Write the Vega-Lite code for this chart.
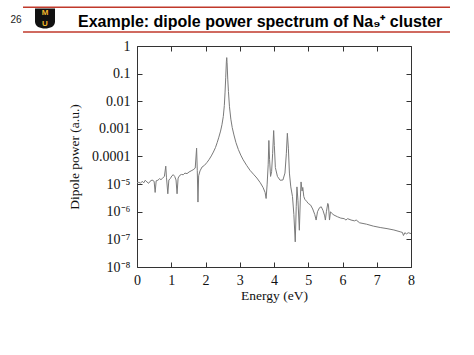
{
  "$schema": "https://vega.github.io/schema/vega-lite/v6.json",
  "autosize": "none",
  "width": 274,
  "height": 221,
  "padding": {"left": 137, "top": 46, "right": 63, "bottom": 88},
  "background": "white",
  "config": {
    "view": {"stroke": "#333333", "strokeWidth": 1},
    "axis": {"labelFont": "Liberation Serif", "titleFont": "Liberation Serif", "labelFontSize": 14, "titleFontSize": 13.5, "titleFontWeight": "normal", "labelColor": "#111111", "titleColor": "#111111", "tickColor": "#333333", "grid": false, "domain": false}
  },
  "resolve": {"axis": {"x": "independent", "y": "independent"}},
  "layer": [
    {
      "data": {"values": [
        {"E":0.00,"P":1.12e-5},{"E":0.06,"P":1.17e-5},{"E":0.10,"P":1.07e-5},{"E":0.15,"P":1.26e-5},{"E":0.20,"P":1.12e-5},
        {"E":0.24,"P":1.38e-5},{"E":0.29,"P":1.20e-5},{"E":0.34,"P":1.07e-5},{"E":0.38,"P":1.26e-5},{"E":0.44,"P":1.41e-5},
        {"E":0.50,"P":1.26e-5},{"E":0.53,"P":5.0e-6},{"E":0.56,"P":1.32e-5},{"E":0.61,"P":1.38e-5},{"E":0.66,"P":1.58e-5},
        {"E":0.70,"P":1.45e-5},{"E":0.75,"P":1.66e-5},{"E":0.80,"P":1.9e-5},{"E":0.84,"P":4.47e-5},{"E":0.86,"P":1.78e-5},
        {"E":0.90,"P":4.47e-6},{"E":0.93,"P":1.41e-5},{"E":0.97,"P":1.58e-5},{"E":1.02,"P":2.0e-5},{"E":1.06,"P":2.19e-5},
        {"E":1.10,"P":1.9e-5},{"E":1.14,"P":1.41e-5},{"E":1.17,"P":4.47e-6},{"E":1.20,"P":1.66e-5},{"E":1.25,"P":2.09e-5},
        {"E":1.30,"P":2.24e-5},{"E":1.35,"P":2.19e-5},{"E":1.40,"P":2.51e-5},{"E":1.46,"P":2.4e-5},{"E":1.52,"P":2.75e-5},
        {"E":1.58,"P":3.02e-5},{"E":1.64,"P":3.31e-5},{"E":1.70,"P":3.8e-5},{"E":1.74,"P":2.0e-4},{"E":1.76,"P":3.16e-5},
        {"E":1.78,"P":2.24e-6},{"E":1.80,"P":2.0e-5},{"E":1.84,"P":3.02e-5},{"E":1.90,"P":4.17e-5},{"E":1.97,"P":4.79e-5},
        {"E":2.04,"P":6.03e-5},{"E":2.10,"P":7.59e-5},{"E":2.17,"P":1.05e-4},{"E":2.23,"P":1.45e-4},{"E":2.29,"P":2.09e-4},
        {"E":2.34,"P":3.16e-4},{"E":2.39,"P":5.01e-4},{"E":2.44,"P":8.32e-4},{"E":2.48,"P":1.41e-3},{"E":2.52,"P":2.82e-3},
        {"E":2.55,"P":7.08e-3},{"E":2.57,"P":0.02},{"E":2.59,"P":0.0708},{"E":2.61,"P":0.282},{"E":2.62,"P":0.38},
        {"E":2.63,"P":0.251},{"E":2.65,"P":0.063},{"E":2.67,"P":0.0224},{"E":2.70,"P":6.31e-3},{"E":2.74,"P":2.24e-3},
        {"E":2.78,"P":1.12e-3},{"E":2.83,"P":6.03e-4},{"E":2.89,"P":3.16e-4},{"E":2.96,"P":1.78e-4},{"E":3.03,"P":1.12e-4},
        {"E":3.10,"P":7.59e-5},{"E":3.20,"P":4.79e-5},{"E":3.30,"P":3.16e-5},{"E":3.40,"P":2.29e-5},{"E":3.50,"P":1.66e-5},
        {"E":3.60,"P":1.12e-5},{"E":3.68,"P":7.59e-6},{"E":3.74,"P":5.0e-6},{"E":3.77,"P":3.02e-6},{"E":3.80,"P":1.0e-5},
        {"E":3.83,"P":5.0e-5},{"E":3.85,"P":3.8e-4},{"E":3.87,"P":7.94e-5},{"E":3.90,"P":1.9e-5},{"E":3.93,"P":2.82e-5},
        {"E":3.96,"P":1.26e-4},{"E":3.99,"P":8.71e-4},{"E":4.01,"P":2.51e-4},{"E":4.04,"P":3.98e-5},{"E":4.10,"P":1.9e-5},
        {"E":4.18,"P":1.38e-5},{"E":4.26,"P":1.41e-5},{"E":4.32,"P":2.51e-5},{"E":4.36,"P":1.26e-4},{"E":4.39,"P":6.92e-4},
        {"E":4.42,"P":2.0e-4},{"E":4.45,"P":2.51e-5},{"E":4.49,"P":7.94e-6},{"E":4.54,"P":3.55e-6},{"E":4.58,"P":7.94e-7},
        {"E":4.62,"P":8.13e-8},{"E":4.65,"P":1.58e-6},{"E":4.67,"P":7.94e-6},{"E":4.70,"P":2.51e-6},{"E":4.74,"P":2.14e-7},
        {"E":4.77,"P":3.16e-6},{"E":4.79,"P":1.2e-5},{"E":4.82,"P":5.62e-6},{"E":4.84,"P":7.59e-6},{"E":4.87,"P":3.55e-6},
        {"E":4.90,"P":2.82e-6},{"E":4.95,"P":2.4e-6},{"E":5.00,"P":2.0e-6},{"E":5.07,"P":1.74e-6},{"E":5.13,"P":1.26e-6},
        {"E":5.19,"P":7.94e-7},{"E":5.23,"P":5.01e-7},{"E":5.27,"P":1.0e-6},{"E":5.33,"P":1.41e-6},{"E":5.38,"P":1.51e-6},
        {"E":5.43,"P":1.12e-6},{"E":5.48,"P":7.08e-7},{"E":5.50,"P":5.01e-7},{"E":5.53,"P":1.0e-6},{"E":5.57,"P":2.0e-6},
        {"E":5.59,"P":1.74e-6},{"E":5.62,"P":5.01e-7},{"E":5.65,"P":1.0e-6},{"E":5.68,"P":8.91e-7},{"E":5.75,"P":7.59e-7},
        {"E":5.85,"P":6.61e-7},{"E":5.95,"P":5.89e-7},{"E":6.05,"P":5.62e-7},{"E":6.10,"P":5.01e-7},{"E":6.15,"P":5.62e-7},
        {"E":6.25,"P":5.01e-7},{"E":6.35,"P":4.68e-7},{"E":6.40,"P":5.01e-7},{"E":6.50,"P":3.98e-7},{"E":6.70,"P":3.55e-7},
        {"E":6.90,"P":3.02e-7},{"E":7.10,"P":2.69e-7},{"E":7.30,"P":2.45e-7},{"E":7.50,"P":2.19e-7},{"E":7.70,"P":1.86e-7},
        {"E":7.75,"P":1.78e-7},{"E":7.78,"P":1.38e-7},{"E":7.82,"P":1.74e-7},{"E":7.87,"P":1.58e-7},{"E":7.92,"P":1.74e-7},
        {"E":8.00,"P":1.62e-7}
      ]},
      "mark": {"type": "line", "color": "#7a7a7a", "strokeWidth": 1, "clip": true},
      "encoding": {
        "x": {"field": "E", "type": "quantitative", "scale": {"domain": [0, 8], "nice": false, "zero": false},
              "axis": {"title": "Energy (eV)", "values": [0,1,2,3,4,5,6,7,8], "tickSize": -5, "labelPadding": 11, "titlePadding": 1, "labelFlush": false}},
        "y": {"field": "P", "type": "quantitative", "scale": {"type": "log", "domain": [1e-8, 1], "nice": false},
              "axis": {"title": "Dipole power (a.u.)", "values": [1,0.1,0.01,0.001,0.0001,0.00001,0.000001,0.0000001,0.00000001], "tickSize": -5, "labelPadding": 12, "titlePadding": 10, "labelFlush": false,
                       "labelExpr": "datum.value > 0.5 ? '1' : datum.value > 0.05 ? '0.1' : datum.value > 0.005 ? '0.01' : datum.value > 0.0005 ? '0.001' : datum.value > 0.00005 ? '0.0001' : datum.value > 0.000005 ? '10⁻⁵' : datum.value > 0.0000005 ? '10⁻⁶' : datum.value > 0.00000005 ? '10⁻⁷' : '10⁻⁸'"}}
      }
    },
    {
      "data": {"values": [{"part": "upper rule"}]},
      "mark": {"type": "rule", "color": "#c0392b", "strokeWidth": 1.5},
      "encoding": {
        "x": {"datum": -3.328, "type": "quantitative", "scale": {"domain": [0, 8], "nice": false, "zero": false},
              "axis": {"orient": "top", "title": null, "labels": false, "values": [0,1,2,3,4,5,6,7,8], "tickSize": -5}},
        "x2": {"datum": 9.139},
        "y": {"datum": 25.2, "type": "quantitative", "scale": {"type": "log", "domain": [1e-8, 1], "nice": false},
              "axis": {"orient": "right", "title": null, "labels": false, "values": [1,0.1,0.01,0.001,0.0001,0.00001,0.000001,0.0000001,0.00000001], "tickSize": -5}}
      }
    },
    {
      "data": {"values": [{"part": "lower rule"}]},
      "mark": {"type": "rule", "color": "#c0392b", "strokeWidth": 1.5},
      "encoding": {
        "x": {"datum": -3.328, "type": "quantitative", "scale": {"domain": [0, 8], "nice": false, "zero": false}, "axis": null},
        "x2": {"datum": 9.139},
        "y": {"datum": 3.21, "type": "quantitative", "scale": {"type": "log", "domain": [1e-8, 1], "nice": false}, "axis": null}
      }
    },
    {
      "data": {"values": [{"part": "logo"}]},
      "mark": {"type": "point", "filled": true, "color": "#111111", "opacity": 1, "size": 400, "shape": "M-1,-1H1V0.3C1,0.8 0.5,1 0,1C-0.5,1 -1,0.8 -1,0.3Z"},
      "encoding": {
        "x": {"datum": -2.686, "type": "quantitative", "scale": {"domain": [0, 8], "nice": false, "zero": false}, "axis": null},
        "y": {"datum": 9.90, "type": "quantitative", "scale": {"type": "log", "domain": [1e-8, 1], "nice": false}, "axis": null}
      }
    },
    {
      "data": {"values": [{"part": "logo M"}]},
      "mark": {"type": "text", "text": "M", "font": "Liberation Sans", "fontWeight": "bold", "fontSize": 8, "color": "#f1b82d", "align": "center", "baseline": "middle"},
      "encoding": {
        "x": {"datum": -2.686, "type": "quantitative", "scale": {"domain": [0, 8], "nice": false, "zero": false}, "axis": null},
        "y": {"datum": 15.65, "type": "quantitative", "scale": {"type": "log", "domain": [1e-8, 1], "nice": false}, "axis": null}
      }
    },
    {
      "data": {"values": [{"part": "logo U"}]},
      "mark": {"type": "text", "text": "U", "font": "Liberation Sans", "fontWeight": "bold", "fontSize": 8, "color": "#f1b82d", "align": "center", "baseline": "middle"},
      "encoding": {
        "x": {"datum": -2.686, "type": "quantitative", "scale": {"domain": [0, 8], "nice": false, "zero": false}, "axis": null},
        "y": {"datum": 6.52, "type": "quantitative", "scale": {"type": "log", "domain": [1e-8, 1], "nice": false}, "axis": null}
      }
    },
    {
      "data": {"values": [{"part": "page number"}]},
      "mark": {"type": "text", "text": "26", "font": "Liberation Sans", "fontSize": 10, "color": "#222222", "align": "center", "baseline": "middle"},
      "encoding": {
        "x": {"datum": -3.533, "type": "quantitative", "scale": {"domain": [0, 8], "nice": false, "zero": false}, "axis": null},
        "y": {"datum": 8.73, "type": "quantitative", "scale": {"type": "log", "domain": [1e-8, 1], "nice": false}, "axis": null}
      }
    },
    {
      "data": {"values": [{"part": "slide title"}]},
      "mark": {"type": "text", "text": "Example: dipole power spectrum of Na₉⁺ cluster", "font": "Liberation Sans", "fontWeight": "bold", "fontSize": 16, "color": "#000000", "align": "left", "baseline": "alphabetic"},
      "encoding": {
        "x": {"datum": -1.723, "type": "quantitative", "scale": {"domain": [0, 8], "nice": false, "zero": false}, "axis": null},
        "y": {"datum": 4.87, "type": "quantitative", "scale": {"type": "log", "domain": [1e-8, 1], "nice": false}, "axis": null}
      }
    }
  ]
}
